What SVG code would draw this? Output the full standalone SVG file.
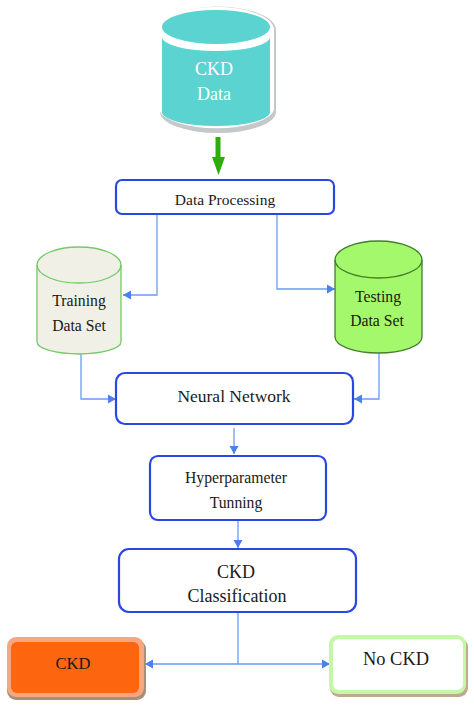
<svg xmlns="http://www.w3.org/2000/svg" width="474" height="708" viewBox="0 0 474 708">
<defs>
<marker id="blue" markerUnits="userSpaceOnUse" markerWidth="10" markerHeight="10" refX="9" refY="5" orient="auto"><path d="M1,0.500 L9,5 L1,9.500 Z" fill="#4a80f0"/></marker>
</defs>
<style>
text{font-family:"Liberation Serif","Times New Roman",serif;fill:#1a1a1a;text-anchor:middle}
.box{fill:#fff;stroke:#2a48e0;stroke-width:2.2}
.c{fill:none;stroke:#6c9bf5;stroke-width:1.3;marker-end:url(#blue)}
</style>
<rect width="474" height="708" fill="#fff"/>
<g id="connectors">
<path class="c" d="M157,215V295H123"/>
<path class="c" d="M277,215V289H335"/>
<path class="c" d="M81,344V399H116"/>
<path class="c" d="M379,339V399H354"/>
<path class="c" d="M234,428V454"/>
<path class="c" d="M238,521V548"/>
<path class="c" d="M238,613V664H145"/>
<path class="c" d="M238,664H330"/>
<path d="M218,137V162" fill="none" stroke="#2eac0c" stroke-width="5"/>
<path d="M212,157H225L218.500,175Z" fill="#2eac0c"/>
</g>
<g id="ckd-data">
<path d="M160,30A57,23 0 0 1 276,30V112A58,21 0 0 1 160,112Z" fill="#c4c8c8"/>
<path d="M159,30A57,23 0 0 1 274,30V110A58,21 0 0 1 159,110Z" fill="#fff"/>
<path d="M162,37A54,14 0 0 0 270,37V112A54,14 0 0 1 162,112Z" fill="#5bd3d0"/>
<ellipse cx="216" cy="27" rx="54" ry="17" fill="#5bd3d0"/>
<text x="214" y="75" font-size="18" style="fill:#fff">CKD</text>
<text x="214" y="100" font-size="18" style="fill:#fff">Data</text>
</g>
<g id="data-processing">
<rect class="box" x="116" y="180" width="218" height="34" rx="6"/>
<text x="225" y="205" font-size="15.500">Data Processing</text>
</g>
<g id="training">
<path d="M37,265A42,18 0 0 1 121,265V342A42,12 0 0 1 37,342Z" fill="#f0f0e6" stroke="#74c96a" stroke-width="1.300"/>
<path d="M37,265A42,18 0 0 0 121,265" fill="none" stroke="#74c96a" stroke-width="1.300"/>
<text x="79" y="306" font-size="15.700">Training</text>
<text x="79" y="331" font-size="15.700">Data Set</text>
</g>
<g id="testing">
<path d="M335,260A43.500,19 0 0 1 422,260V337A43.500,16 0 0 1 335,337Z" fill="#a3f96b" stroke="#467d2e" stroke-width="1.300"/>
<path d="M335,260A43.500,18 0 0 0 422,260" fill="none" stroke="#467d2e" stroke-width="1.300"/>
<text x="378" y="302" font-size="15.700">Testing</text>
<text x="377" y="326" font-size="15.700">Data Set</text>
</g>
<g id="neural-network">
<rect class="box" x="116" y="373" width="237" height="51" rx="9"/>
<text x="234" y="402" font-size="17.500">Neural Network</text>
</g>
<g id="hyperparameter">
<rect class="box" x="150" y="456" width="176" height="64" rx="8"/>
<text x="236" y="483" font-size="15.700">Hyperparameter</text>
<text x="236" y="508" font-size="15.700">Tunning</text>
</g>
<g id="classification">
<rect class="box" x="119" y="549" width="237" height="63" rx="10"/>
<text x="236" y="578" font-size="18">CKD</text>
<text x="237" y="602" font-size="18">Classification</text>
</g>
<g id="ckd">
<rect x="7" y="640" width="139" height="60" rx="9" fill="#a89078"/>
<rect x="7" y="637" width="137" height="60" rx="9" fill="#f7a67f"/>
<rect x="11" y="642" width="128" height="51" rx="6" fill="#fd660f"/>
<text x="73" y="669" font-size="16.500">CKD</text>
</g>
<g id="no-ckd">
<rect x="330" y="638" width="138" height="59" rx="9" fill="#c0aa8c"/>
<rect x="329" y="635" width="137" height="59" rx="9" fill="#c4f8a4"/>
<rect x="333" y="639" width="130" height="51" rx="6" fill="#fff"/>
<text x="396" y="665" font-size="18.400">No CKD</text>
</g>
</svg>
